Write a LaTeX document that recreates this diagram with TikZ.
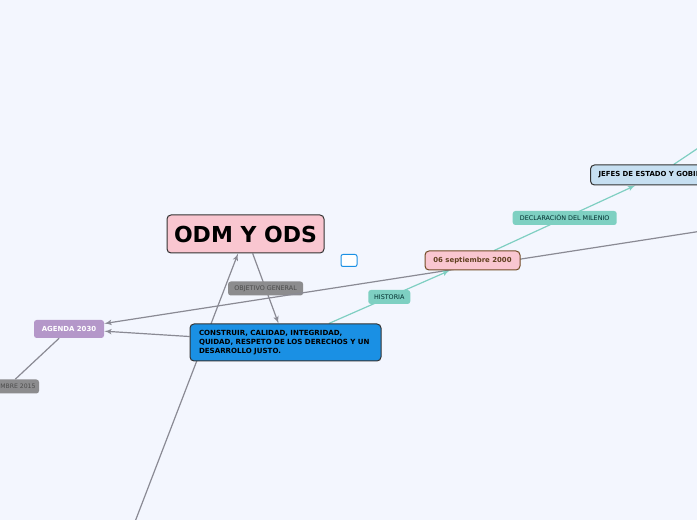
\documentclass[tikz,border=0pt]{standalone}
\usepackage{fontspec}
\setmainfont{DejaVu Sans}
\usetikzlibrary{arrows}
\usetikzlibrary{positioning}
\pgfdeclarelayer{back}
\pgfdeclarelayer{edges}
\pgfsetlayers{back,edges,main}
\definecolor{paper}{HTML}{F3F6FE}
\definecolor{pinkfill}{HTML}{F9C6D0}
\definecolor{bluefill}{HTML}{1A90E4}
\definecolor{skyfill}{HTML}{C6DFF1}
\definecolor{purplefill}{HTML}{B497C9}
\definecolor{greyfill}{HTML}{8C8C8E}
\definecolor{tealfill}{HTML}{7ED0C2}
\definecolor{greyline}{HTML}{8A8A94}
\definecolor{tealline}{HTML}{7FCFC2}
\definecolor{darkedge}{HTML}{333333}
\tikzset{x=0.75pt, y=-0.75pt, >=latex', font=\fontsize{4.8}{5.8}\selectfont}
\tikzstyle{topic} = [draw=darkedge, line width=0.75pt, rounded corners=3pt, inner sep=0pt, align=center]
\tikzstyle{central} = [topic, fill=pinkfill, minimum width=117.75pt, minimum height=28.5pt, font=\fontsize{16.5}{16.5}\selectfont\bfseries]
\tikzstyle{goal} = [topic, fill=bluefill, minimum width=143.25pt, minimum height=27.75pt, text width=129.75pt, align=left, font=\fontsize{5.3}{6.6}\selectfont\bfseries]
\tikzstyle{datebox} = [topic, draw=brown!60!black, fill=pinkfill, minimum width=71.25pt, minimum height=14.25pt, text=brown!50!black, font=\fontsize{5.2}{5.2}\selectfont\bfseries]
\tikzstyle{leaders} = [topic, fill=skyfill, minimum height=15pt, inner xsep=6pt, font=\fontsize{5.2}{5.2}\selectfont\bfseries]
\tikzstyle{agenda} = [rounded corners=2pt, fill=purplefill, minimum width=52.5pt, minimum height=13.5pt, text=white, font=\fontsize{5.2}{5.2}\selectfont\bfseries]
\tikzstyle{greytag} = [rounded corners=2pt, fill=greyfill, text=black!70, inner sep=0pt, minimum height=10.5pt]
\tikzstyle{tealtag} = [rounded corners=2pt, fill=tealfill, text=black!65!teal, inner sep=0pt, minimum height=10.5pt]
\tikzstyle{blank} = [draw=bluefill, line width=0.75pt, fill=white, rounded corners=1.5pt, minimum width=12pt, minimum height=9pt, inner sep=0pt]
\tikzstyle{greylink} = [draw=greyline, line width=0.9pt]
\tikzstyle{teallink} = [draw=tealline, line width=0.9pt]

\begin{document}
\begin{tikzpicture}
    \useasboundingbox (0,0) rectangle (697,520);
    \clip (0,0) rectangle (697,520);
    \begin{pgfonlayer}{back}
        \fill [paper] (0,0) rectangle (697,520);
    \end{pgfonlayer}

    \node [central] (odm) at (245.5,234) {ODM Y ODS};
    \node [blank, below right=15pt and 12pt of odm.east] (empty) {};
    \node [goal] (construir) at (285.5,342.5) {CONSTRUIR, CALIDAD, INTEGRIDAD,\\QUIDAD, RESPETO DE LOS DERECHOS Y UN\\DESARROLLO JUSTO.};
    \node [agenda] (agenda) at (69,329) {AGENDA 2030};
    \node [greytag, minimum width=47.25pt, font=\fontsize{4.6}{4.6}\selectfont] (sept2015) at (7.5,386.5) {SEPTIEMBRE 2015};
    \node [datebox] (sept2000) at (472.5,260.5) {06 septiembre 2000};
    \node [leaders, anchor=west] (jefes) at (590,175) {JEFES DE ESTADO Y GOBIERNO};
    \coordinate (from_below) at (128,540);
    \coordinate (from_right) at (760,222);
    \coordinate (to_top) at (740,120);

    \begin{pgfonlayer}{edges}
        \draw [greylink, ->] (odm) -- node [greytag, minimum width=56.25pt] {OBJETIVO GENERAL} (construir);
        \draw [greylink, ->] (from_below) -- (odm);
        \draw [greylink, ->] (from_right) -- (agenda);
        \draw [greylink, ->] (construir) -- (agenda);
        \draw [greylink] (agenda) -- (sept2015);
        \draw [teallink, ->] (construir) -- node [tealtag, minimum width=31.5pt] {HISTORIA} (sept2000);
        \draw [teallink, ->] (sept2000) -- node [tealtag, minimum width=78pt] {DECLARACIÓN DEL MILENIO} (jefes);
        \draw [teallink] (jefes) -- (to_top);
    \end{pgfonlayer}
\end{tikzpicture}
\end{document}
